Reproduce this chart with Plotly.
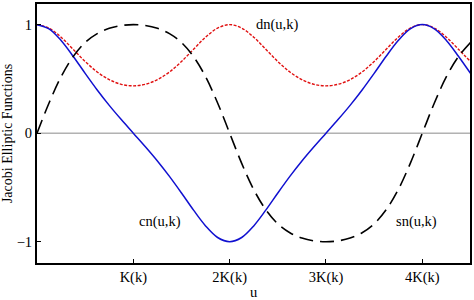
import plotly.graph_objects as go

# u in units of K(k), sampled every K/8
u = [i * 0.125 for i in range(37)]

sn = [0, 0.278, 0.520, 0.705, 0.835, 0.917, 0.966, 0.992, 1,
      0.992, 0.966, 0.917, 0.835, 0.705, 0.520, 0.278, 0,
      -0.278, -0.520, -0.705, -0.835, -0.917, -0.966, -0.992, -1,
      -0.992, -0.966, -0.917, -0.835, -0.705, -0.520, -0.278, 0,
      0.278, 0.520, 0.705, 0.835]

cn = [1, 0.961, 0.854, 0.709, 0.551, 0.398, 0.256, 0.125, 0,
      -0.125, -0.256, -0.398, -0.551, -0.709, -0.854, -0.961, -1,
      -0.961, -0.854, -0.709, -0.551, -0.398, -0.256, -0.125, 0,
      0.125, 0.256, 0.398, 0.551, 0.709, 0.854, 0.961, 1,
      0.961, 0.854, 0.709, 0.551]

dn = [1, 0.968, 0.884, 0.773, 0.660, 0.564, 0.493, 0.450, 0.436,
      0.450, 0.493, 0.564, 0.660, 0.773, 0.884, 0.968, 1,
      0.968, 0.884, 0.773, 0.660, 0.564, 0.493, 0.450, 0.436,
      0.450, 0.493, 0.564, 0.660, 0.773, 0.884, 0.968, 1,
      0.968, 0.884, 0.773, 0.660]

x_tickvals = [1, 2, 3, 4]
x_ticktext = ["K(k)", "2K(k)", "3K(k)", "4K(k)"]
y_tickvals = [-1, 0, 1]
y_ticktext = ["\u22121", "0", "1"]

labels = [("dn(u,k)", 2.49, 1.0), ("cn(u,k)", 1.28, -0.81), ("sn(u,k)", 3.94, -0.81)]

font = "Liberation Serif, Times New Roman, serif"

fig = go.Figure()
fig.add_trace(go.Scatter(x=u, y=dn, mode="lines", line=dict(color="#e01010", width=1.4, dash="3px,1.5px", shape="spline")))
fig.add_trace(go.Scatter(x=u, y=cn, mode="lines", line=dict(color="#1010d0", width=1.5, shape="spline")))
fig.add_trace(go.Scatter(x=u, y=sn, mode="lines", line=dict(color="black", width=1.6, dash="14px,7px", shape="spline")))

for text, x, y in labels:
    fig.add_annotation(x=x, y=y, text=text, showarrow=False, font=dict(family=font, size=14.5, color="black"))

fig.add_hline(y=0, line=dict(color="#8a8a8a", width=1), layer="below")

fig.update_layout(
    width=474, height=300,
    margin=dict(l=37, r=1.5, t=1.5, b=31),
    plot_bgcolor="white", paper_bgcolor="white",
    showlegend=False,
    font=dict(family=font, size=14.5, color="black"),
    xaxis=dict(range=[0, 4.495], tickvals=x_tickvals, ticktext=x_ticktext,
               ticks="inside", ticklen=4, tickcolor="black", showgrid=False, zeroline=False,
               showline=True, linecolor="black", linewidth=2, mirror=True,
               tickfont=dict(size=14.5),
               title=dict(text="u", standoff=2, font=dict(size=14.5))),
    yaxis=dict(range=[-1.196, 1.19], tickvals=y_tickvals, ticktext=y_ticktext,
               ticks="inside", ticklen=4, tickcolor="black", showgrid=False, zeroline=False,
               showline=True, linecolor="black", linewidth=2, mirror=True,
               tickfont=dict(size=14.5),
               title=dict(text="Jacobi Elliptic Functions", standoff=4, font=dict(size=14))),
)

fig.write_html("out.html")
